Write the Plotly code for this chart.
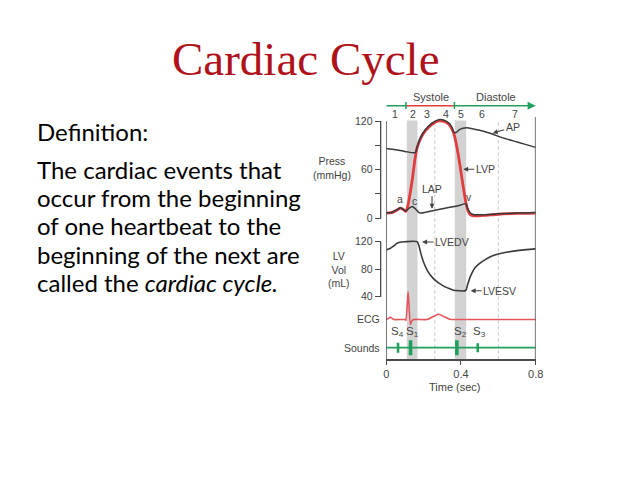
import plotly.graph_objects as go

W, H = 638, 479

# ---------------- data ----------------
phase_bounds = [0.0, 0.105, 0.365, 0.8]          # diastole | systole | diastole
phase_numbers = ["1", "2", "3", "4", "5", "6", "7"]
phase_number_t = [0.047, 0.142, 0.218, 0.322, 0.398, 0.514, 0.689]
iso_bands = [(0.110, 0.167), (0.367, 0.428)]
dotted_t = [0.26, 0.60]

lvp_t = [0.00, 0.03, 0.06, 0.075, 0.09, 0.105, 0.115, 0.125, 0.14, 0.155, 0.165, 0.185,
         0.21, 0.245, 0.28, 0.31, 0.335, 0.352, 0.365, 0.378, 0.395, 0.41, 0.425, 0.438,
         0.45, 0.47, 0.52, 0.60, 0.70, 0.80]
lvp_p = [6.5, 7.0, 10.5, 12.5, 11.0, 8.5, 15.0, 27.0, 49.0, 75.0, 87.0, 99.0,
         108.0, 116.0, 120.0, 119.5, 116.0, 110.0, 102.0, 88.0, 65.0, 42.0, 21.0, 9.0,
         4.5, 3.0, 3.5, 5.0, 6.0, 6.5]

lap_t = [0.00, 0.03, 0.06, 0.075, 0.09, 0.105, 0.12, 0.138, 0.155, 0.175, 0.19, 0.26,
         0.34, 0.40, 0.425, 0.438, 0.45, 0.47, 0.52, 0.60, 0.70, 0.80]
lap_p = [6.5, 7.5, 11.0, 13.0, 11.0, 9.0, 12.0, 14.5, 12.0, 7.0, 6.5, 10.0,
         13.5, 16.5, 18.0, 11.0, 6.5, 4.5, 4.5, 5.5, 6.5, 7.0]

ap_t = [0.00, 0.05, 0.10, 0.155, 0.165, 0.185, 0.21, 0.245, 0.28, 0.31, 0.335, 0.352,
        0.362, 0.372, 0.39, 0.41, 0.44, 0.50, 0.56, 0.62, 0.68, 0.74, 0.80]
ap_p = [86.0, 84.5, 82.5, 81.0, 88.0, 100.5, 109.5, 117.5, 121.5, 121.0, 117.5, 112.0,
        106.5, 105.5, 109.0, 111.0, 111.5, 108.5, 104.5, 99.5, 95.5, 91.5, 87.5]

vol_t = [0.00, 0.02, 0.04, 0.06, 0.08, 0.10, 0.165, 0.175, 0.185, 0.20, 0.22, 0.25,
         0.28, 0.31, 0.34, 0.36, 0.37, 0.425, 0.435, 0.447, 0.46, 0.475, 0.50, 0.53,
         0.56, 0.60, 0.65, 0.70, 0.75, 0.80]
vol_ml = [108, 110, 114, 118, 119.5, 120, 120, 114, 103, 90, 78, 67,
          60, 55, 51.5, 49.5, 49, 49, 57, 67, 75, 82, 88.5, 94,
          98.5, 102, 105, 107, 108.5, 109.5]

ecg_t = [0.00, 0.01, 0.02, 0.03, 0.04, 0.10, 0.105, 0.117, 0.129, 0.137, 0.147,
         0.22, 0.25, 0.28, 0.31, 0.34, 0.37, 0.80]
ecg_mv = [0.0, 0.03, 0.08, 0.05, 0.0, 0.0, -0.03, 1.0, -0.18, -0.05, 0.0,
          0.0, 0.10, 0.19, 0.10, 0.01, 0.0, 0.0]

sound_names = ["S<sub>4</sub>", "S<sub>1</sub>", "S<sub>2</sub>", "S<sub>3</sub>"]
sound_t = [0.063, 0.130, 0.378, 0.490]
sound_label_t = [0.062, 0.140, 0.395, 0.500]
sound_amp = [0.5, 0.75, 0.75, 0.45]
sound_strong = [False, True, True, False]

press_ticks = [0, 30, 60, 90, 120]
press_ticktext = ["0", " ", "60", " ", "120"]
vol_ticks = [40, 80, 120]
time_ticks = [0, 0.4, 0.8]
time_ticktext = ["0", "0.4", "0.8"]

# ---------------- geometry helpers ----------------
def py(pix):
    return 1 - pix / H

def px(pix):
    return pix / W

def axis_cfg(va, pa, vb, pb, top, bot):
    s = (pb - pa) / (vb - va)
    v_top = va + (top - pa) / s
    v_bot = va + (bot - pa) / s
    return [v_bot, v_top], [py(bot), py(top)]

X0, X1 = 390, 542
press_range, press_dom = axis_cfg(0, 218.3, 120, 121.0, 108, 228)
vol_range, vol_dom = axis_cfg(40, 296.7, 120, 241.7, 232, 306)
ecg_range, ecg_dom = axis_cfg(0, 319.5, 1, 291.8, 282, 334)
snd_range, snd_dom = axis_cfg(0, 347.7, 1, 337.7, 334, 360)

DARK = "#3a3a3a"
AXC = "#4a4a4a"
RED = "#e23b40"
ECGRED = "#e2575c"
GREEN = "#20a05c"
LBL = dict(family="Liberation Sans, Arial, sans-serif", size=10.5, color="#444")
C = dict(xanchor="center", yanchor="middle", showarrow=False)

fig = go.Figure()

fig.add_trace(go.Scatter(x=lvp_t, y=lvp_p, mode="lines", xaxis="x", yaxis="y",
                         line=dict(color=RED, width=2.8, shape="spline", smoothing=0.7)))
fig.add_trace(go.Scatter(x=lap_t, y=lap_p, mode="lines", xaxis="x", yaxis="y",
                         line=dict(color=DARK, width=1.5, shape="spline", smoothing=0.7)))
fig.add_trace(go.Scatter(x=ap_t, y=ap_p, mode="lines", xaxis="x", yaxis="y",
                         line=dict(color=DARK, width=1.5, shape="spline", smoothing=0.7)))
fig.add_trace(go.Scatter(x=vol_t, y=vol_ml, mode="lines", xaxis="x", yaxis="y2",
                         line=dict(color=DARK, width=1.6, shape="spline", smoothing=0.7)))
fig.add_trace(go.Scatter(x=ecg_t, y=ecg_mv, mode="lines", xaxis="x", yaxis="y3",
                         line=dict(color=ECGRED, width=1.6, shape="spline", smoothing=0.5)))
fig.add_trace(go.Scatter(x=[0, 0.8], y=[0, 0], mode="lines", xaxis="x", yaxis="y4",
                         line=dict(color=GREEN, width=1.8)))
for strong in (False, True):
    xs, ys = [], []
    for t, a, s in zip(sound_t, sound_amp, sound_strong):
        if s == strong:
            xs += [t, t, None]
            ys += [-a, a, None]
    fig.add_trace(go.Scatter(x=xs, y=ys, mode="lines", xaxis="x", yaxis="y4",
                             line=dict(color=GREEN, width=3.6 if strong else 2.6)))

shapes = []
for a, b in iso_bands:
    shapes.append(dict(type="rect", xref="x", yref="paper", x0=a, x1=b,
                       y0=py(359.5), y1=py(120.5), fillcolor="#d2d2d2",
                       line=dict(width=0), layer="below"))
for t in dotted_t:
    shapes.append(dict(type="line", xref="x", yref="paper", x0=t, x1=t,
                       y0=py(359.5), y1=py(121), line=dict(color="#c4c4c4", width=1, dash="dot"),
                       layer="below"))
shapes.append(dict(type="line", xref="x", yref="paper", x0=0, x1=0, y0=py(360), y1=py(121),
                   line=dict(color=AXC, width=1.5)))
shapes.append(dict(type="line", xref="x", yref="paper", x0=0.8, x1=0.8, y0=py(360), y1=py(117),
                   line=dict(color=AXC, width=1.5)))
shapes.append(dict(type="line", xref="paper", yref="y", x0=px(384.3), x1=px(384.3), y0=0, y1=120,
                   line=dict(color=AXC, width=1.3)))
shapes.append(dict(type="line", xref="paper", yref="y2", x0=px(384.3), x1=px(384.3), y0=40, y1=120,
                   line=dict(color=AXC, width=1.3)))
bar_y = py(105.7)
bar_cols = [GREEN, RED, GREEN]
for i in range(3):
    x1 = phase_bounds[i + 1] if i < 2 else phase_bounds[i + 1] - 0.01
    shapes.append(dict(type="line", xref="x", yref="paper", x0=phase_bounds[i], x1=x1,
                       y0=bar_y, y1=bar_y, line=dict(color=bar_cols[i], width=1.6)))
for t in phase_bounds[1:3]:
    shapes.append(dict(type="line", xref="x", yref="paper", x0=t, x1=t,
                       y0=py(102), y1=py(109), line=dict(color=GREEN, width=1.5)))

ann = []
ann.append(dict(x=0.8, y=bar_y, xref="x", yref="paper", ax=-8, ay=0, axref="pixel", ayref="pixel",
                text="", showarrow=True, arrowhead=2, arrowsize=1, arrowwidth=1.6, arrowcolor=GREEN))
ann.append(dict(x=(phase_bounds[1] + phase_bounds[2]) / 2 + 0.005, y=py(96.7), xref="x", yref="paper",
                text="Systole", font=dict(LBL, size=11), **C))
ann.append(dict(x=0.585, y=py(96.7), xref="x", yref="paper",
                text="Diastole", font=dict(LBL, size=11), **C))
for n, t in zip(phase_numbers, phase_number_t):
    ann.append(dict(x=t, y=py(114.3), xref="x", yref="paper", text=n, font=LBL, **C))

ann.append(dict(x=(404 - X0) / 190, y=py(199), xref="x", yref="paper", text="a", font=LBL, **C))
ann.append(dict(x=(418.5 - X0) / 190, y=py(201), xref="x", yref="paper", text="c", font=LBL, **C))
ann.append(dict(x=(474.5 - X0) / 190, y=py(196.5), xref="x", yref="paper", text="v", font=LBL, **C))
arrow_kw = dict(showarrow=True, arrowhead=2, arrowsize=0.9, arrowwidth=1.1, arrowcolor="#444",
                axref="pixel", ayref="pixel", font=LBL, xanchor="center", yanchor="middle")
ann.append(dict(x=0.245, y=10.5, xref="x", yref="y", ax=0, ay=-21, text="LAP", standoff=1, **arrow_kw))
ann.append(dict(x=0.412, y=60.5, xref="x", yref="y", ax=22, ay=0, text="LVP", **arrow_kw))
ann.append(dict(x=0.57, y=105.0, xref="x", yref="y", ax=20, ay=-6, text="AP", **arrow_kw))
ann.append(dict(x=0.192, y=119.6, xref="x", yref="y2", ax=30, ay=0, text="LVEDV", **arrow_kw))
ann.append(dict(x=0.452, y=48.7, xref="x", yref="y2", ax=29, ay=0, text="LVESV", **arrow_kw))

for n, t in zip(sound_names, sound_label_t):
    ann.append(dict(x=t, y=py(332), xref="x", yref="paper", text=n,
                    font=dict(LBL, size=11.5), **C))

ann.append(dict(x=px(335), y=py(168), xref="paper", yref="paper", text="Press<br>(mmHg)",
                font=LBL, **C))
ann.append(dict(x=px(342), y=py(269), xref="paper", yref="paper", text="LV<br>Vol<br>(mL)",
                font=LBL, **C))
ann.append(dict(x=px(386), y=py(319), xref="paper", yref="paper", text="ECG", xanchor="right",
                yanchor="middle", showarrow=False, font=LBL))
ann.append(dict(x=px(386), y=py(347.5), xref="paper", yref="paper", text="Sounds", xanchor="right",
                yanchor="middle", showarrow=False, font=LBL))
ann.append(dict(x=px(460), y=py(387), xref="paper", yref="paper", text="Time (sec)",
                font=dict(LBL, size=11), **C))

ann.append(dict(x=px(308), y=py(59), xref="paper", yref="paper", text="Cardiac Cycle",
                font=dict(family="Liberation Serif, serif", size=47, color="#b0121b"), **C))
BODY = dict(family="Lato, sans-serif", size=24, color="#000")
body_lines = ["Definition:", "The cardiac events that", "occur from the beginning",
              "of one heartbeat to the", "beginning of the next are",
              "called the <i>cardiac cycle.</i>"]
body_base = [140.7, 178.3, 206.8, 235.1, 263.4, 291.7]
for line, b in zip(body_lines, body_base):
    ann.append(dict(x=px(33), y=py(b - 0.387 * 24), xref="paper", yref="paper", text=line,
                    xanchor="left", yanchor="middle", showarrow=False, font=BODY))

fig.update_layout(
    width=W, height=H, margin=dict(l=0, r=0, t=0, b=0),
    paper_bgcolor="white", plot_bgcolor="rgba(0,0,0,0)", showlegend=False,
    shapes=shapes, annotations=ann,
    xaxis=dict(domain=[px(X0), px(X1)], range=[0, 0.8], anchor="free", position=py(360),
               showline=True, linecolor=AXC, linewidth=1.5, ticks="outside", ticklen=4,
               tickcolor=AXC, tickvals=time_ticks, ticktext=time_ticktext, tickfont=dict(LBL, size=11),
               showgrid=False, zeroline=False, fixedrange=True),
    yaxis=dict(domain=press_dom, range=press_range, anchor="free", position=px(384.3),
               showline=False, ticks="outside", ticklen=6, tickcolor=AXC, tickwidth=1.3,
               tickvals=press_ticks, ticktext=press_ticktext, tickfont=LBL,
               showgrid=False, zeroline=False),
    yaxis2=dict(domain=vol_dom, range=vol_range, anchor="free", position=px(384.3),
                showline=False, ticks="outside", ticklen=6, tickcolor=AXC, tickwidth=1.3,
                tickvals=vol_ticks, tickfont=LBL, showgrid=False, zeroline=False),
    yaxis3=dict(domain=ecg_dom, range=ecg_range, visible=False),
    yaxis4=dict(domain=snd_dom, range=snd_range, visible=False),
)

fig.write_html(
    "out.html",
    config={"displayModeBar": False},
    post_script=("document.documentElement.style.margin='0';document.body.style.margin='0';"
                 "document.documentElement.style.overflow='hidden';document.body.style.overflow='hidden';"),
)
